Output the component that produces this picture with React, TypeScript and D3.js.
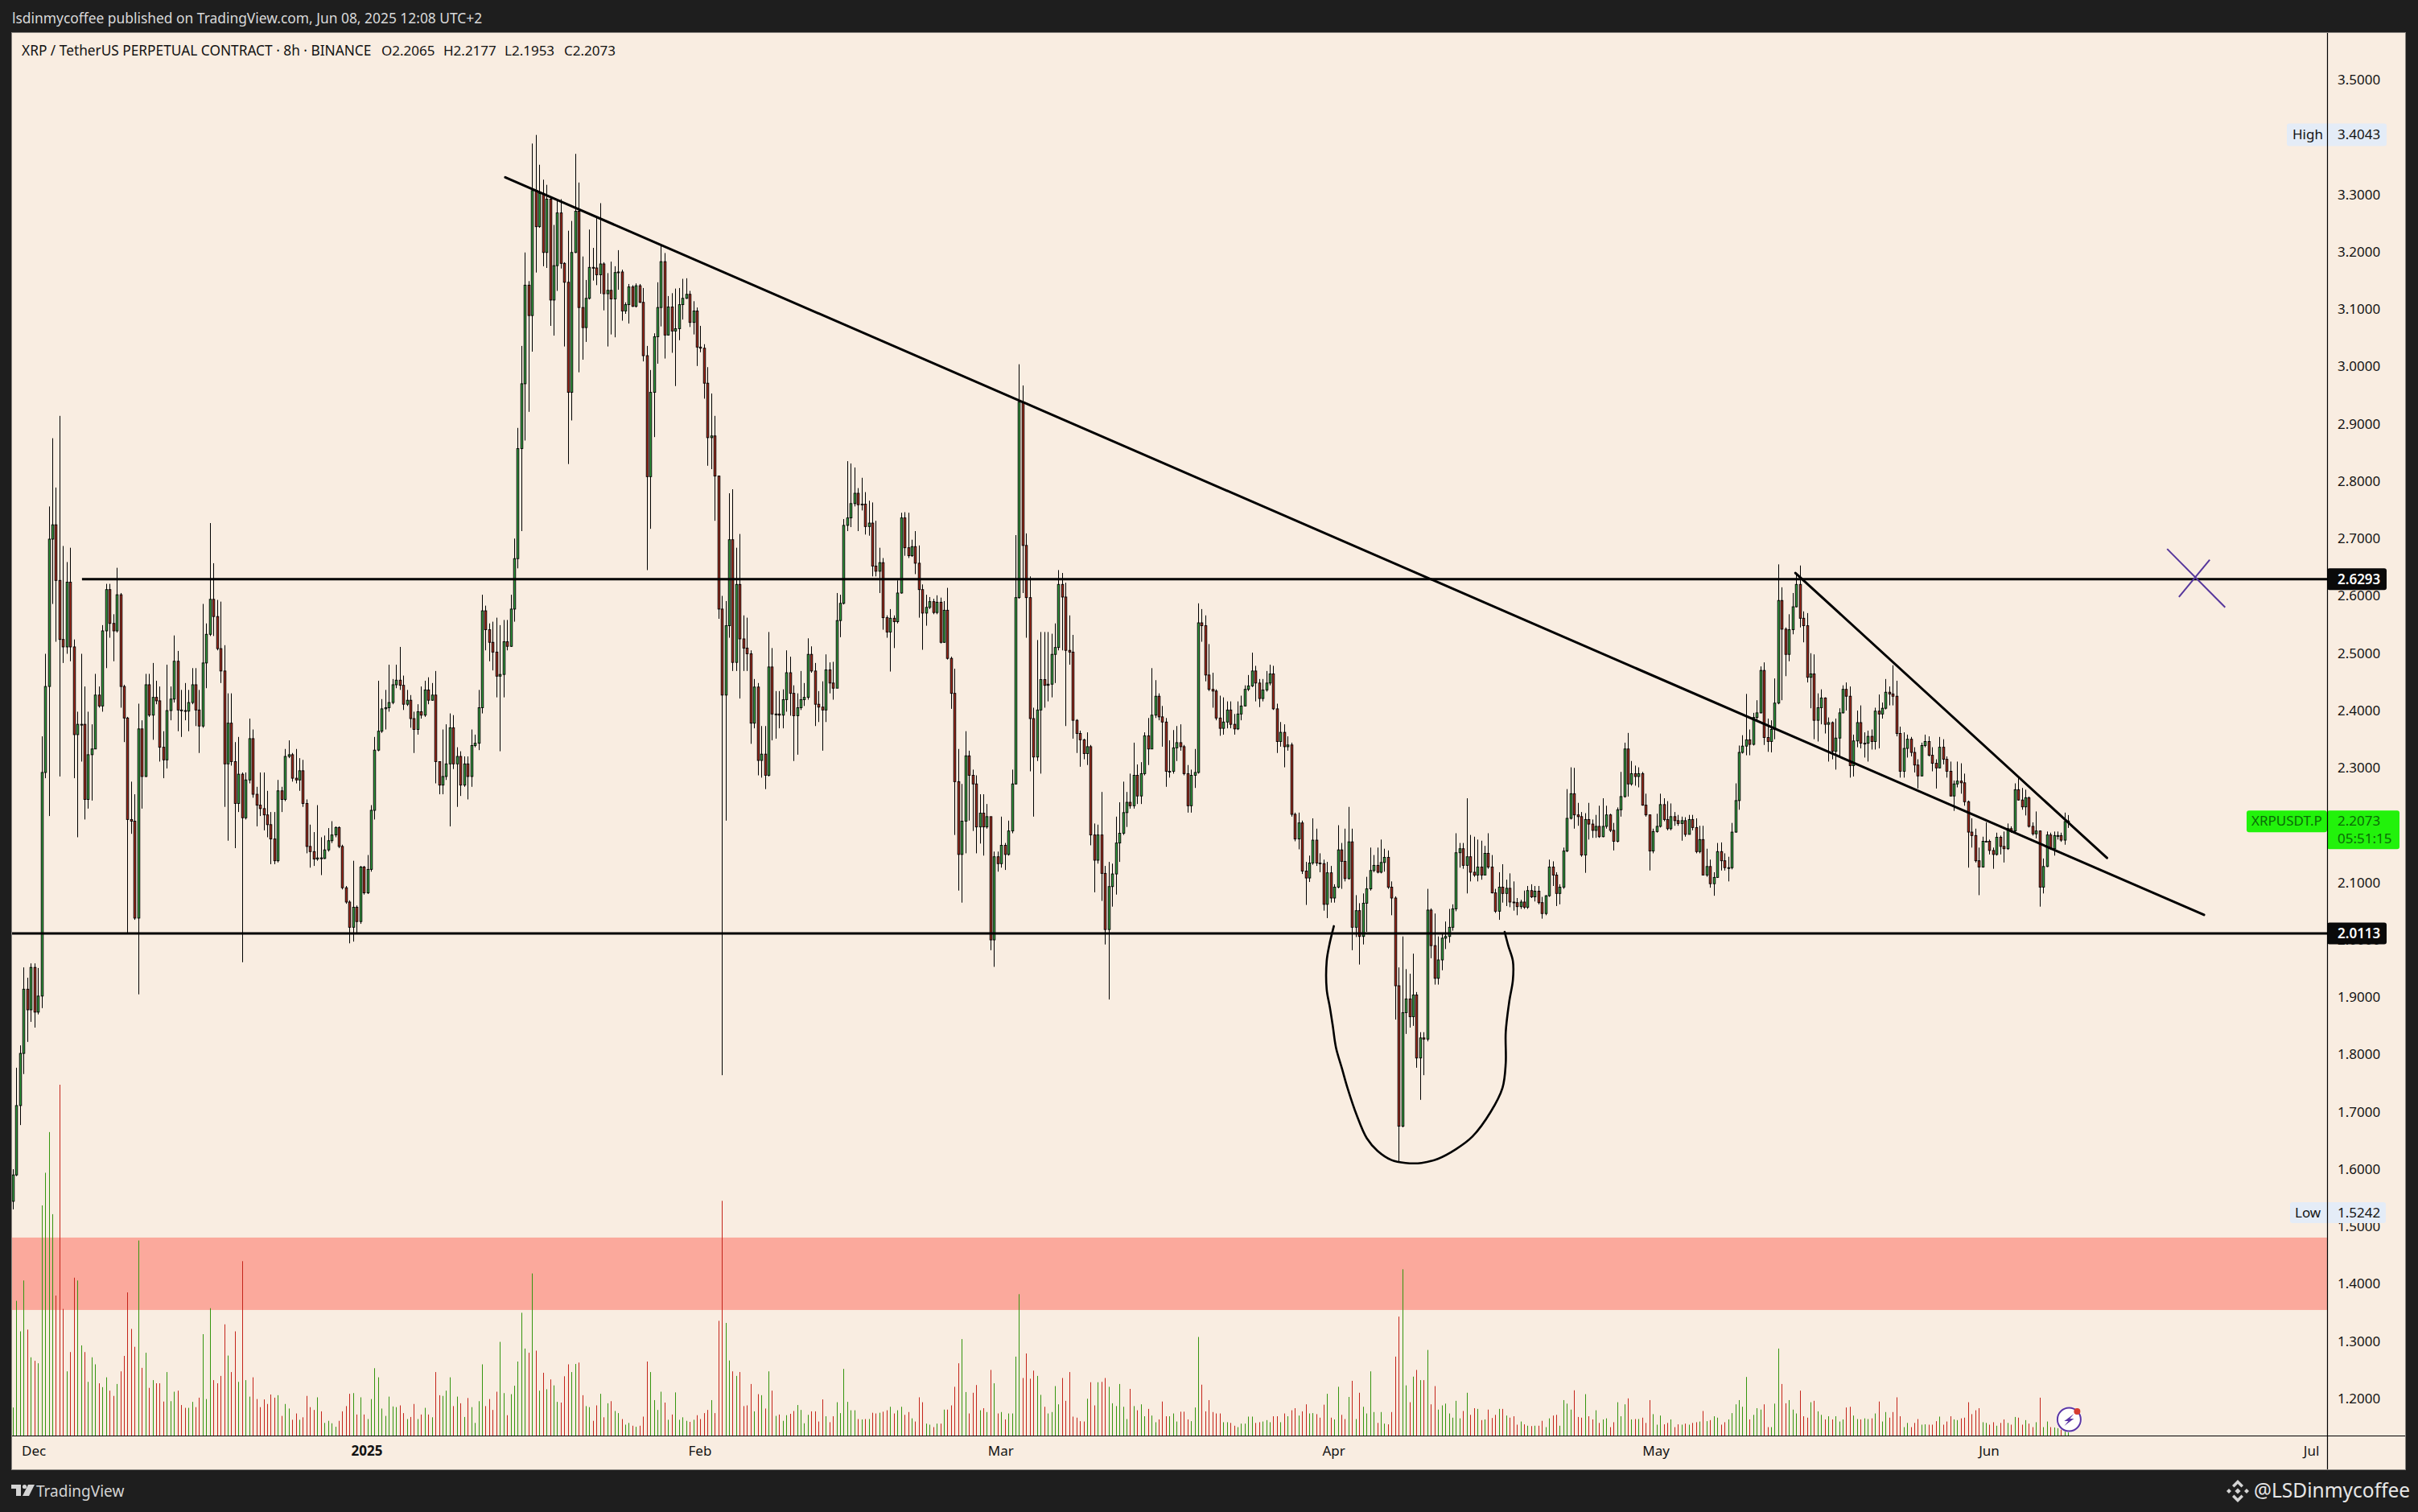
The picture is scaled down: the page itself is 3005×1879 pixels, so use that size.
import { useEffect, useRef } from "react";
import * as d3 from "d3";

const WIDTH = 3005;
const HEIGHT = 1879;

// 8h bars, first one is Nov 29 2024 00:00 UTC
const FIRST_BAR = Date.UTC(2024, 10, 29, 0);
const BAR_MS = 8 * 3600 * 1000;
const FIRST_OPEN = 1.544;

const closes = [
  1.590,1.711,1.802,1.914,1.878,1.952,1.874,1.902,2.292,2.442,
  2.699,2.724,2.627,2.524,2.511,2.624,2.511,2.358,2.376,2.376,
  2.245,2.323,2.333,2.427,2.408,2.539,2.611,2.552,2.539,2.602,
  2.442,2.387,2.210,2.207,2.038,2.368,2.285,2.445,2.392,2.423,
  2.417,2.336,2.314,2.400,2.420,2.486,2.401,2.400,2.399,2.414,
  2.445,2.401,2.373,2.483,2.533,2.594,2.564,2.508,2.469,2.307,
  2.378,2.311,2.238,2.289,2.213,2.279,2.351,2.254,2.235,2.229,
  2.218,2.201,2.176,2.138,2.260,2.245,2.320,2.323,2.282,2.279,
  2.295,2.238,2.163,2.154,2.141,2.143,2.142,2.157,2.173,2.183,
  2.196,2.163,2.091,2.066,2.022,2.057,2.032,2.127,2.082,2.123,
  2.226,2.331,2.364,2.403,2.405,2.414,2.445,2.453,2.444,2.411,
  2.418,2.386,2.367,2.398,2.392,2.436,2.418,2.427,2.311,2.270,
  2.285,2.307,2.370,2.307,2.320,2.270,2.307,2.285,2.339,2.343,
  2.405,2.574,2.541,2.519,2.502,2.460,2.463,2.520,2.512,2.577,
  2.665,2.857,2.970,3.142,3.089,3.307,3.244,3.302,3.199,3.292,
  3.116,3.176,3.268,3.180,3.147,2.955,3.199,3.271,3.103,3.068,
  3.119,3.173,3.172,3.160,3.179,3.127,3.133,3.118,3.164,3.165,
  3.097,3.108,3.139,3.105,3.141,3.112,3.019,2.808,2.955,3.052,
  3.103,3.183,3.055,3.104,3.062,3.066,3.108,3.119,3.126,3.077,
  3.097,3.034,3.032,2.971,2.876,2.879,2.809,2.577,2.427,2.548,
  2.698,2.484,2.620,2.525,2.509,2.499,2.378,2.441,2.313,2.324,
  2.287,2.476,2.394,2.394,2.392,2.419,2.466,2.430,2.391,2.405,
  2.419,2.423,2.498,2.469,2.411,2.406,2.401,2.471,2.448,2.439,
  2.557,2.587,2.723,2.736,2.761,2.779,2.759,2.760,2.721,2.727,
  2.652,2.643,2.658,2.562,2.537,2.561,2.555,2.605,2.736,2.684,
  2.670,2.686,2.657,2.611,2.570,2.580,2.590,2.571,2.589,2.519,
  2.575,2.491,2.430,2.276,2.149,2.207,2.321,2.287,2.272,2.197,
  2.221,2.197,2.215,2.000,2.145,2.133,2.165,2.149,2.190,2.272,
  2.597,2.938,2.688,2.597,2.386,2.319,2.401,2.454,2.444,2.446,
  2.498,2.510,2.620,2.598,2.505,2.502,2.383,2.360,2.349,2.325,
  2.337,2.183,2.139,2.183,2.116,2.018,2.093,2.115,2.169,2.186,
  2.222,2.240,2.234,2.287,2.251,2.290,2.356,2.333,2.392,2.425,
  2.389,2.380,2.294,2.294,2.335,2.344,2.337,2.290,2.234,2.287,
  2.292,2.553,2.548,2.462,2.437,2.434,2.387,2.369,2.380,2.401,
  2.376,2.368,2.394,2.408,2.437,2.443,2.469,2.448,2.421,2.436,
  2.448,2.464,2.403,2.346,2.362,2.337,2.340,2.219,2.176,2.204,
  2.120,2.108,2.134,2.174,2.134,2.133,2.062,2.117,2.073,2.092,
  2.157,2.137,2.107,2.171,2.022,2.051,2.006,2.064,2.089,2.121,
  2.130,2.118,2.135,2.144,2.092,2.073,1.920,1.675,1.873,1.897,
  1.866,1.904,1.794,1.829,1.827,2.052,1.990,1.933,1.965,2.003,
  2.006,2.022,2.054,2.152,2.159,2.130,2.145,2.118,2.113,2.127,
  2.113,2.151,2.127,2.082,2.050,2.092,2.081,2.090,2.066,2.065,
  2.058,2.066,2.057,2.086,2.075,2.085,2.065,2.046,2.077,2.127,
  2.113,2.081,2.092,2.155,2.212,2.255,2.218,2.215,2.148,2.210,
  2.202,2.191,2.198,2.180,2.198,2.218,2.191,2.172,2.227,2.250,
  2.333,2.272,2.290,2.285,2.290,2.235,2.218,2.155,2.189,2.198,
  2.236,2.210,2.194,2.215,2.208,2.203,2.208,2.184,2.210,2.196,
  2.154,2.175,2.113,2.128,2.098,2.109,2.154,2.138,2.126,2.126,
  2.188,2.243,2.327,2.338,2.349,2.341,2.388,2.396,2.470,2.353,
  2.346,2.367,2.413,2.592,2.542,2.498,2.541,2.581,2.620,2.561,
  2.548,2.458,2.464,2.383,2.405,2.422,2.376,2.379,2.329,2.352,
  2.396,2.437,2.425,2.304,2.347,2.379,2.343,2.343,2.355,2.346,
  2.399,2.394,2.404,2.432,2.429,2.425,2.360,2.294,2.334,2.350,
  2.327,2.305,2.286,2.339,2.346,2.322,2.308,2.300,2.336,2.315,
  2.294,2.251,2.272,2.277,2.274,2.241,2.188,2.182,2.138,2.127,
  2.172,2.172,2.156,2.149,2.179,2.163,2.159,2.194,2.190,2.262,
  2.244,2.232,2.248,2.198,2.185,2.190,2.092,2.128,2.183,2.159,
  2.182,2.182,2.174,2.2065,2.2073,
];

const highs = [
  1.600,1.777,1.816,1.952,1.934,1.959,1.959,1.951,2.355,2.499,
  2.756,2.875,2.789,2.914,2.687,2.659,2.684,2.524,2.398,2.499,
  2.442,2.398,2.376,2.464,2.442,2.549,2.621,2.621,2.568,2.649,
  2.605,2.445,2.389,2.276,2.254,2.412,2.383,2.464,2.464,2.483,
  2.452,2.442,2.364,2.480,2.442,2.531,2.504,2.436,2.448,2.436,
  2.474,2.474,2.436,2.586,2.552,2.727,2.657,2.593,2.590,2.514,
  2.430,2.430,2.345,2.354,2.292,2.292,2.386,2.367,2.267,2.292,
  2.292,2.260,2.223,2.223,2.279,2.267,2.333,2.348,2.326,2.333,
  2.317,2.314,2.245,2.201,2.188,2.235,2.179,2.182,2.195,2.207,
  2.198,2.198,2.166,2.094,2.069,2.138,2.060,2.129,2.129,2.148,
  2.235,2.354,2.452,2.420,2.436,2.480,2.455,2.480,2.511,2.461,
  2.436,2.427,2.398,2.411,2.442,2.452,2.458,2.448,2.469,2.311,
  2.367,2.376,2.395,2.392,2.336,2.329,2.320,2.320,2.367,2.358,
  2.436,2.602,2.583,2.552,2.555,2.562,2.549,2.558,2.558,2.602,
  2.700,2.893,3.036,3.199,3.149,3.389,3.404,3.352,3.326,3.317,
  3.295,3.247,3.290,3.292,3.182,3.237,3.254,3.371,3.321,3.192,
  3.151,3.239,3.207,3.259,3.285,3.182,3.163,3.183,3.175,3.203,
  3.169,3.112,3.144,3.142,3.145,3.144,3.137,3.036,2.994,3.058,
  3.147,3.212,3.198,3.123,3.128,3.136,3.137,3.153,3.154,3.132,
  3.114,3.103,3.071,3.039,2.999,2.953,2.914,2.810,2.600,2.591,
  2.779,2.786,2.684,2.708,2.566,2.562,2.505,2.455,2.448,2.373,
  2.373,2.537,2.509,2.434,2.434,2.437,2.505,2.494,2.444,2.430,
  2.469,2.448,2.526,2.512,2.483,2.434,2.451,2.498,2.484,2.485,
  2.605,2.602,2.734,2.835,2.831,2.824,2.788,2.806,2.781,2.766,
  2.763,2.731,2.684,2.666,2.566,2.577,2.566,2.627,2.745,2.746,
  2.745,2.698,2.713,2.688,2.620,2.602,2.598,2.595,2.601,2.597,
  2.591,2.614,2.494,2.473,2.333,2.272,2.364,2.330,2.297,2.287,
  2.254,2.254,2.237,2.201,2.154,2.154,2.215,2.169,2.208,2.297,
  2.706,3.004,2.967,2.709,2.634,2.405,2.523,2.537,2.537,2.537,
  2.534,2.552,2.645,2.640,2.623,2.566,2.532,2.385,2.365,2.351,
  2.362,2.340,2.203,2.201,2.258,2.129,2.136,2.133,2.215,2.240,
  2.276,2.258,2.290,2.344,2.306,2.310,2.362,2.387,2.474,2.453,
  2.430,2.408,2.387,2.348,2.366,2.373,2.376,2.340,2.305,2.297,
  2.333,2.587,2.577,2.566,2.516,2.466,2.437,2.426,2.423,2.416,
  2.416,2.394,2.416,2.426,2.444,2.462,2.501,2.478,2.455,2.455,
  2.469,2.480,2.478,2.412,2.380,2.376,2.355,2.344,2.222,2.222,
  2.208,2.136,2.147,2.212,2.194,2.151,2.140,2.136,2.129,2.097,
  2.200,2.169,2.194,2.232,2.194,2.078,2.064,2.081,2.110,2.161,
  2.148,2.161,2.175,2.159,2.156,2.102,2.076,1.952,2.006,1.949,
  1.941,1.976,1.909,1.839,1.839,2.089,2.055,2.046,2.006,2.011,
  2.032,2.054,2.062,2.186,2.169,2.169,2.247,2.183,2.180,2.175,
  2.173,2.164,2.186,2.148,2.089,2.118,2.132,2.105,2.116,2.102,
  2.073,2.070,2.086,2.094,2.097,2.094,2.094,2.075,2.078,2.140,
  2.137,2.118,2.097,2.161,2.263,2.301,2.300,2.239,2.223,2.221,
  2.239,2.210,2.218,2.234,2.247,2.234,2.220,2.204,2.231,2.293,
  2.344,2.361,2.312,2.304,2.301,2.293,2.255,2.219,2.194,2.220,
  2.255,2.247,2.242,2.238,2.223,2.218,2.215,2.214,2.218,2.218,
  2.212,2.199,2.199,2.159,2.140,2.118,2.169,2.170,2.151,2.145,
  2.204,2.273,2.339,2.357,2.429,2.367,2.396,2.418,2.477,2.484,
  2.386,2.383,2.456,2.655,2.615,2.545,2.568,2.605,2.638,2.653,
  2.573,2.570,2.500,2.498,2.430,2.437,2.423,2.388,2.381,2.386,
  2.404,2.444,2.449,2.442,2.358,2.400,2.409,2.362,2.365,2.367,
  2.405,2.428,2.414,2.455,2.442,2.479,2.452,2.372,2.362,2.358,
  2.354,2.336,2.315,2.344,2.358,2.355,2.336,2.315,2.354,2.350,
  2.320,2.311,2.278,2.311,2.308,2.290,2.243,2.212,2.194,2.161,
  2.180,2.205,2.175,2.161,2.187,2.182,2.189,2.203,2.198,2.273,
  2.282,2.265,2.262,2.250,2.205,2.224,2.191,2.142,2.189,2.187,
  2.189,2.189,2.187,2.222,2.2177,
];

const lows = [
  1.530,1.588,1.677,1.766,1.822,1.857,1.847,1.870,1.881,2.282,
  2.216,2.586,2.520,2.285,2.483,2.499,2.486,2.282,2.179,2.311,
  2.210,2.229,2.243,2.333,2.405,2.398,2.474,2.527,2.486,2.536,
  2.405,2.345,2.010,2.185,2.035,1.905,2.229,2.284,2.389,2.349,
  2.411,2.311,2.282,2.299,2.383,2.414,2.364,2.354,2.383,2.364,
  2.411,2.373,2.326,2.370,2.439,2.530,2.530,2.505,2.448,2.232,
  2.173,2.304,2.160,2.223,1.961,2.210,2.273,2.248,2.198,2.216,
  2.191,2.179,2.132,2.132,2.135,2.223,2.242,2.317,2.276,2.273,
  2.260,2.232,2.151,2.126,2.129,2.138,2.113,2.141,2.154,2.169,
  2.179,2.160,2.088,2.063,1.994,1.997,2.010,2.028,2.079,2.080,
  2.119,2.210,2.329,2.361,2.367,2.398,2.411,2.439,2.436,2.401,
  2.408,2.370,2.326,2.358,2.386,2.389,2.411,2.417,2.273,2.254,
  2.254,2.279,2.198,2.298,2.232,2.251,2.267,2.245,2.267,2.336,
  2.331,2.395,2.505,2.486,2.470,2.423,2.329,2.423,2.505,2.511,
  2.555,2.648,2.713,2.871,2.921,3.026,3.164,3.242,3.175,3.172,
  3.071,3.054,3.132,3.171,3.035,2.830,2.906,3.198,2.990,3.012,
  3.043,3.117,3.150,3.142,3.127,3.098,3.035,3.056,3.051,3.134,
  3.080,3.092,3.075,3.104,3.103,3.111,3.009,2.645,2.717,2.877,
  3.005,3.070,3.014,3.054,3.024,2.966,3.046,3.082,3.118,3.069,
  3.056,3.001,3.025,2.944,2.827,2.821,2.731,2.560,1.764,2.208,
  2.527,2.469,2.469,2.421,2.469,2.469,2.342,2.369,2.287,2.283,
  2.263,2.285,2.348,2.351,2.369,2.369,2.398,2.391,2.312,2.323,
  2.401,2.408,2.419,2.466,2.373,2.380,2.330,2.380,2.430,2.419,
  2.441,2.528,2.585,2.713,2.720,2.756,2.713,2.749,2.707,2.705,
  2.634,2.634,2.605,2.541,2.527,2.468,2.509,2.552,2.604,2.670,
  2.666,2.668,2.638,2.562,2.506,2.548,2.577,2.568,2.568,2.517,
  2.518,2.489,2.403,2.183,2.086,2.065,2.151,2.208,2.190,2.151,
  2.168,2.147,2.194,1.982,1.953,2.119,2.126,2.122,2.147,2.186,
  2.271,2.595,2.605,2.527,2.294,2.215,2.312,2.290,2.405,2.416,
  2.423,2.448,2.505,2.505,2.373,2.480,2.351,2.326,2.302,2.315,
  2.305,2.165,2.083,2.133,2.068,1.992,1.896,2.058,2.079,2.136,
  2.183,2.197,2.229,2.229,2.237,2.237,2.287,2.305,2.351,2.387,
  2.383,2.337,2.267,2.283,2.290,2.312,2.330,2.287,2.222,2.222,
  2.265,2.290,2.520,2.451,2.434,2.405,2.383,2.356,2.358,2.369,
  2.369,2.358,2.366,2.383,2.407,2.434,2.441,2.416,2.406,2.416,
  2.433,2.444,2.401,2.326,2.337,2.301,2.330,2.215,2.172,2.158,
  2.115,2.061,2.101,2.131,2.129,2.118,2.051,2.038,2.065,2.065,
  2.090,2.089,2.102,2.105,1.982,2.005,1.957,1.992,2.014,2.086,
  2.118,2.116,2.116,2.119,2.089,2.043,1.861,1.613,1.673,1.836,
  1.847,1.850,1.777,1.721,1.764,1.823,1.968,1.922,1.922,1.947,
  1.984,1.995,2.016,2.050,2.126,2.124,2.081,2.102,2.110,2.102,
  2.105,2.121,2.124,2.081,2.047,2.035,2.065,2.059,2.057,2.051,
  2.043,2.054,2.054,2.054,2.073,2.067,2.062,2.037,2.043,2.075,
  2.094,2.059,2.062,2.089,2.153,2.210,2.194,2.199,2.145,2.117,
  2.175,2.178,2.178,2.178,2.179,2.194,2.188,2.156,2.170,2.215,
  2.248,2.250,2.269,2.269,2.266,2.234,2.215,2.121,2.151,2.187,
  2.196,2.207,2.191,2.191,2.199,2.199,2.173,2.180,2.184,2.191,
  2.151,2.151,2.118,2.110,2.091,2.077,2.108,2.121,2.121,2.102,
  2.123,2.187,2.227,2.325,2.322,2.322,2.339,2.381,2.395,2.340,
  2.328,2.327,2.350,2.411,2.418,2.460,2.486,2.533,2.580,2.545,
  2.519,2.449,2.404,2.350,2.346,2.376,2.360,2.311,2.315,2.297,
  2.318,2.395,2.400,2.283,2.285,2.336,2.334,2.318,2.311,2.332,
  2.332,2.334,2.386,2.402,2.409,2.409,2.355,2.283,2.283,2.318,
  2.320,2.292,2.264,2.285,2.336,2.320,2.294,2.264,2.299,2.306,
  2.283,2.250,2.225,2.266,2.255,2.234,2.126,2.161,2.135,2.078,
  2.126,2.170,2.149,2.124,2.147,2.149,2.135,2.157,2.187,2.187,
  2.243,2.227,2.217,2.196,2.182,2.177,2.058,2.081,2.127,2.157,
  2.147,2.175,2.171,2.166,2.1953,
];

// volume as a share of the tallest bar (no volume axis on the chart)
const volumes = [
  8,38.4,29.7,44.2,30.2,22.3,21.3,20.6,65.6,74.9,
  86.5,63.1,39.9,100,36.1,18.3,23.8,45,44.2,25.7,
  23.8,15.3,22.3,20.3,14.9,13.8,16.6,12.8,11.3,14.7,
  18.3,22.7,40.8,30.4,25.3,55.6,19.3,23.6,13.6,15.8,
  14.9,14.9,9.7,18.1,9.8,12.5,12.8,8.7,7.9,7.9,
  9.6,8.1,10.8,28.9,10.4,36.3,15.8,14.9,17,31.7,
  22.8,18.1,29.7,15.3,49.7,15.8,11.1,16.6,10.4,8.1,
  10.3,9,11.7,10.8,11.5,5.6,9,7.7,4.5,6.3,
  4.5,5.2,11.3,8.1,7.3,10.9,6.9,3.6,4.2,3.5,
  2.5,4.2,6.9,8.4,11.9,12.1,6,10.9,6,4.7,
  10.4,19.2,16.6,7.7,5.6,11.1,8.3,8.1,8.6,6.4,
  4.7,5.3,9,4.7,6,7.9,6,5.2,18.1,11.5,
  11.3,12.8,16.6,8.4,11.1,9.2,5.3,10.7,8.1,3.6,
  9.8,20.3,8.4,10.4,7.3,12.5,26.7,12.1,5.8,11.8,
  14.2,21.1,35,24.8,23.6,46.2,24.2,12.8,17.9,13.2,
  16,14.3,9.6,9.4,16.9,20.3,18.1,20.4,20.8,11.5,
  8.4,8.1,4.2,8.6,11.9,5.2,9.2,9.8,7,6.4,
  4.7,3.1,3.6,2.8,2.5,2.8,5.4,21.1,18.1,10.1,
  7.3,12.5,9.4,4.5,6,12.3,4.5,5.2,4.2,3.9,
  4.5,5.8,4.7,6.4,7.3,10.1,6.4,32.7,66.9,32.1,
  21.4,18.3,17,18.1,8.4,8.6,14.7,6.9,11.8,11.5,
  7.7,18.3,12.8,5.6,6,4.2,5.8,6.2,7,8.7,
  7.3,3.5,5.9,6.9,6.9,4,10.3,5.5,3.8,5.5,
  9.5,6.4,19,9.6,7.2,7.2,4.7,4.6,4.7,4.7,
  6.5,6.3,6.5,6.8,7.2,8.2,6.3,7.2,8.2,5.9,
  6.7,4.9,4,10.9,9.5,3.4,3.1,2.4,3.4,3.4,
  7.4,7.4,8.6,13.9,20.6,27.5,12.4,6.3,12.2,14.4,
  7.2,7.8,6.7,18.7,14.9,6.3,6.7,4.6,6.3,6.3,
  22.5,40.3,16.4,23.4,16.2,18.5,17,11.6,8.2,6.3,
  6.7,14.1,8.9,16.4,9.9,18.1,5.4,5.1,4.1,4,
  10.5,15.2,8.6,15.2,15.3,16.4,13.9,9.2,8.4,14.7,
  8.2,4.7,13.3,8.4,7.2,8.9,5.5,7.6,5.7,3.8,
  4.6,9.7,5.5,5.5,6.3,4,6.8,6.8,4.6,4.1,
  8,28.1,14.5,6.9,10.1,6.7,6.3,6.3,3.8,3.8,
  3.6,2.8,2.4,3.4,3.4,5.4,5.4,3.6,3.8,4,
  4.4,3.8,5.5,5.5,3.8,6.3,5.5,7.2,7.8,5.7,
  6.9,8.9,6.3,6.4,6.1,5.1,8.8,11.9,5.1,4.6,
  13.9,5.9,4.7,11,15.6,4.7,12.2,8.2,6.3,18.3,
  6.7,3.6,6.7,3.4,3.2,6.7,22.5,33.9,47.4,14.3,
  9.5,16.8,18.7,15.8,15.8,24.4,8.9,14.1,7.4,8.6,
  9.1,6.3,5.1,9.9,4.9,7,12.2,5.9,7.8,7.6,
  4.4,4.6,7.4,5,5.9,7.6,7.6,5.7,5.1,5.5,
  3.1,4,3.2,2.8,2.7,2.8,2.8,4.2,2.4,4.9,
  5.7,5.9,2.8,10.1,9.1,7.4,12.9,5.3,5.1,11.8,
  5.5,4.6,7.2,3.6,4.6,4.9,2.4,3.8,9.5,5.5,
  8.9,10.6,4.6,4.7,4.7,5.1,3.6,10.1,6.1,3.1,
  5.7,3.2,3.6,4.6,2.4,3.2,3.1,3.4,3.1,3.6,
  3.8,4,7,4.1,4.4,5.5,5.1,3.1,3.8,4.6,
  6.4,8.9,10.1,8.2,16.7,4.6,5.9,7.8,7.4,8.9,
  2.4,2.4,9.1,24.8,14.7,9.2,10.1,7.4,6.3,12.8,
  5.5,5.1,9.5,9.9,6.9,5.9,4.6,5.5,4.6,5.5,
  4,4.6,8,8.2,5.7,4.7,4.6,4.9,4.7,4.9,
  6.3,9.7,4,6.7,5.1,6.7,10.9,5.5,2.4,3.6,
  2.4,3.6,4.7,3.1,3.2,3.1,3.1,4.1,5.4,3.1,
  4,5.5,4.6,4.4,4.9,5.1,9.5,6.1,7.2,7.8,
  3.8,3.6,3.1,3.8,2.8,3.6,4.6,3.6,3.1,5.3,
  5.1,3.1,4.4,3.4,2.4,3.8,10.8,2.4,4,2.4,
  2.3,2.1,1.7,1.3,0.9,
];

const priceTicks = d3.range(12, 36).map((d) => d / 10);
const monthTicks = [
  { date: new Date(Date.UTC(2024, 11, 1)), label: "Dec" },
  { date: new Date(Date.UTC(2025, 0, 1)), label: "2025" },
  { date: new Date(Date.UTC(2025, 1, 1)), label: "Feb" },
  { date: new Date(Date.UTC(2025, 2, 1)), label: "Mar" },
  { date: new Date(Date.UTC(2025, 3, 1)), label: "Apr" },
  { date: new Date(Date.UTC(2025, 4, 1)), label: "May" },
  { date: new Date(Date.UTC(2025, 5, 1)), label: "Jun" },
  { date: new Date(Date.UTC(2025, 6, 1)), label: "Jul" },
];

// drawings on the chart, in [bar number, price]
const levelHigh = 2.6293;
const levelLow = 2.0113;
const levelHighStartBar = 19.3;
const zoneTop = 1.4808;
const zoneBottom = 1.3545;
const longTrend: [number, number][] = [[137.5, 3.33], [611.9, 2.0436]];
const shortTrend: [number, number][] = [[497.8, 2.64], [584.8, 2.143]];
const crossA: [number, number][] = [[601.6, 2.682], [617.8, 2.58]];
const crossB: [number, number][] = [[613.5, 2.663], [604.9, 2.598]];
const handCurve: [number, number][] = [
  [368.9, 2.024], [367.6, 1.99], [366.9, 1.963], [366.9, 1.914], [367.8, 1.882], [368.6, 1.85],
  [369.5, 1.812], [371.2, 1.775], [372.7, 1.742], [375.3, 1.694], [378.1, 1.654], [381.1, 1.632],
  [385, 1.616], [388.9, 1.611], [393.4, 1.611], [397.9, 1.618], [403, 1.635], [407.6, 1.657],
  [412.7, 1.7], [416, 1.742], [416.9, 1.785], [416.9, 1.839], [417.9, 1.893], [418.9, 1.93],
  [418.9, 1.963], [417.6, 1.99], [416.6, 2.014],
];

const FONT = "'Noto Sans', sans-serif";
const BG = "#f9ede1";
const FRAME = "#1e1e1e";

export default function App() {
  const svgRef = useRef<SVGSVGElement>(null);

  useEffect(() => {
    if (!svgRef.current) return;
    const svg = d3.select(svgRef.current);
    svg.selectAll("*").remove();

    const left = 15, right = 2892, top = 41, bottom = 1784, panelRight = 2989, panelBottom = 1826;

    // Scales
    const x = d3.scaleUtc()
      .domain([new Date(Date.UTC(2024, 11, 1)), new Date(Date.UTC(2025, 6, 1))])
      .range([42.7, 2873]);
    const y = d3.scaleLinear().domain([3.5, 1.2]).range([99.3, 1738]);
    const yVol = d3.scaleLinear().domain([0, 100]).range([bottom, bottom - 436]);
    const barX = (bar: number) => x(new Date(FIRST_BAR + bar * BAR_MS));
    const crispX = (bar: number) => Math.round(barX(bar)) + 0.5;

    // Frame and panel
    svg.append("rect").attr("width", WIDTH).attr("height", HEIGHT).attr("fill", FRAME);
    svg.append("rect")
      .attr("x", left - 0.5).attr("y", top - 0.5)
      .attr("width", panelRight - left + 1).attr("height", panelBottom - top + 1)
      .attr("fill", BG).attr("stroke", "#8a8580").attr("stroke-width", 1);

    svg.append("defs").append("clipPath").attr("id", "plot")
      .append("rect").attr("x", left).attr("y", top).attr("width", right - left).attr("height", bottom - top);
    const plot = svg.append("g").attr("clip-path", "url(#plot)");

    // Red zone
    plot.append("rect")
      .attr("x", left).attr("width", right - left)
      .attr("y", y(zoneTop)).attr("height", y(zoneBottom) - y(zoneTop))
      .attr("fill", "#fba99c");

    const bars = closes.map((close, i) => {
      const open = i === 0 ? FIRST_OPEN : closes[i - 1];
      return { i, open, close, high: highs[i], low: lows[i], volume: volumes[i] ?? 0, up: close >= open };
    });

    // Volume
    plot.append("g").selectAll("line").data(bars).join("line")
      .attr("x1", (d) => crispX(d.i)).attr("x2", (d) => crispX(d.i))
      .attr("y1", yVol(0)).attr("y2", (d) => yVol(d.volume))
      .attr("stroke", (d) => (d.up ? "#35950f" : "#c4241a"))
      .attr("stroke-width", 1);

    // Candles
    const candles = plot.append("g").selectAll("g").data(bars).join("g");
    candles.append("line")
      .attr("x1", (d) => crispX(d.i)).attr("x2", (d) => crispX(d.i))
      .attr("y1", (d) => y(d.high)).attr("y2", (d) => y(d.low))
      .attr("stroke", "#000").attr("stroke-width", 1);
    candles.append("rect")
      .attr("x", (d) => crispX(d.i) - 1.3).attr("width", 2.6)
      .attr("y", (d) => y(Math.max(d.open, d.close)))
      .attr("height", (d) => Math.max(Math.abs(y(d.open) - y(d.close)), 1))
      .attr("fill", (d) => (d.up ? "#2f9a3c" : "#a02618"))
      .attr("stroke", "#000").attr("stroke-width", 0.9);

    // Drawings
    const lineGen = d3.line<[number, number]>().x((d) => barX(d[0])).y((d) => y(d[1]));
    const drawn = svg.append("g").attr("clip-path", "url(#plot)").attr("fill", "none").attr("stroke", "#000");
    drawn.append("line").attr("x1", barX(levelHighStartBar)).attr("x2", right)
      .attr("y1", y(levelHigh)).attr("y2", y(levelHigh)).attr("stroke-width", 3);
    drawn.append("line").attr("x1", left).attr("x2", right)
      .attr("y1", y(levelLow)).attr("y2", y(levelLow)).attr("stroke-width", 3);
    drawn.append("path").attr("d", lineGen(longTrend)).attr("stroke-width", 3).attr("stroke-linecap", "round");
    drawn.append("path").attr("d", lineGen(shortTrend)).attr("stroke-width", 3).attr("stroke-linecap", "round");
    drawn.append("path").attr("d", lineGen.curve(d3.curveCatmullRom)(handCurve))
      .attr("stroke-width", 2.6).attr("stroke-linecap", "round");
    lineGen.curve(d3.curveLinear);
    drawn.append("path").attr("d", lineGen(crossA)).attr("stroke", "#56369c").attr("stroke-width", 2);
    drawn.append("path").attr("d", lineGen(crossB)).attr("stroke", "#56369c").attr("stroke-width", 2);

    // Axis lines
    svg.append("line").attr("x1", left).attr("x2", panelRight).attr("y1", bottom + 0.5).attr("y2", bottom + 0.5)
      .attr("stroke", "#000").attr("stroke-width", 1.2);

    // Price axis
    const yAxis = svg.append("g").attr("transform", `translate(${right},0)`)
      .call(d3.axisRight(y).tickValues(priceTicks).tickFormat(d3.format(".4f") as any).tickSize(0).tickPadding(13));
    yAxis.select(".domain").remove();
    yAxis.selectAll("text").attr("font-family", FONT).attr("font-size", 17).attr("fill", "#131313");

    // Time axis
    const xAxis = svg.append("g").attr("transform", `translate(-1,${bottom})`)
      .call(
        d3.axisBottom(x)
          .tickValues(monthTicks.map((d) => d.date))
          .tickFormat((_, i) => monthTicks[i].label)
          .tickSize(0).tickPadding(13)
      );
    xAxis.select(".domain").remove();
    xAxis.selectAll("text").attr("font-family", FONT).attr("font-size", 17).attr("fill", "#131313")
      .attr("font-weight", (_, i) => (monthTicks[i].label === "2025" ? 700 : 400));

    const text = (
      g: d3.Selection<any, any, any, any>, tx: number, ty: number, s: string, size: number, fill: string,
      anchor = "start", weight = 400
    ) =>
      g.append("text").attr("x", tx).attr("y", ty).attr("dy", "0.35em").attr("text-anchor", anchor)
        .attr("font-family", FONT).attr("font-size", size).attr("font-weight", weight).attr("fill", fill).text(s);

    // Price labels
    const labels = svg.append("g");
    const box = (bx: number, by: number, w: number, h: number, fill: string) =>
      labels.append("rect").attr("x", bx).attr("y", by).attr("width", w).attr("height", h).attr("rx", 3).attr("fill", fill);

    const highY = y(3.4043);
    box(2842, highY - 14, 124, 28, "#e4ecf7");
    text(labels, 2849, highY, "High", 17, "#131313");
    text(labels, right + 13, highY, "3.4043", 17, "#131313");

    const lowY = y(1.5242);
    box(2846, lowY - 13, 119, 26, "#e4ecf7");
    text(labels, 2852, lowY, "Low", 17, "#131313");
    text(labels, right + 13, lowY, "1.5242", 17, "#131313");

    [levelHigh, levelLow].forEach((level) => {
      box(right, y(level) - 13.5, 74, 27, "#0a0a0a");
      text(labels, right + 13, y(level), d3.format(".4f")(level), 17, "#fff", "start", 600);
    });

    const lastY = y(2.2073);
    box(2792, lastY - 13, 100, 27, "#22f20b");
    box(right, lastY - 13, 90, 48, "#22f20b");
    text(labels, 2798, lastY, "XRPUSDT.P", 17, "#0b6b07");
    text(labels, right + 13, lastY, "2.2073", 17, "#0b6b07");
    text(labels, right + 13, lastY + 22, "05:51:15", 17, "#0b6b07");

    // Axis line back on top of the labels
    svg.append("line").attr("x1", right + 0.5).attr("x2", right + 0.5).attr("y1", top).attr("y2", panelBottom)
      .attr("stroke", "#000").attr("stroke-width", 1.2);

    // Titles
    text(svg, 15, 23, "lsdinmycoffee published on TradingView.com, Jun 08, 2025 12:08 UTC+2", 17.4, "#d9d9d9");
    text(svg, 27, 63, "XRP / TetherUS PERPETUAL CONTRACT · 8h · BINANCE", 17.3, "#131313");
    text(svg, 474, 63, "O2.2065", 17, "#131313");
    text(svg, 551, 63, "H2.2177", 17, "#131313");
    text(svg, 627, 63, "L2.1953", 17, "#131313");
    text(svg, 701, 63, "C2.2073", 17, "#131313");

    // Footer: TradingView logo and name
    const logo = svg.append("g").attr("transform", "translate(14,1845)").attr("fill", "#d4d4d4");
    logo.append("path").attr("d", "M0 0H12V14H6V5H0Z");
    logo.append("circle").attr("cx", 16.5).attr("cy", 2.5).attr("r", 2.6);
    logo.append("path").attr("d", "M21 0H29L22 14H14Z");
    text(svg, 45, 1853, "TradingView", 19, "#d4d4d4");

    // Footer: Binance mark and handle
    const diamond = (cx: number, cy: number, r: number) => `M${cx} ${cy - r}L${cx + r} ${cy}L${cx} ${cy + r}L${cx - r} ${cy}Z`;
    const mark = svg.append("g").attr("transform", "translate(2781,1853)").attr("fill", "#d4d4d4");
    mark.append("path").attr("d", diamond(0, 0, 3.6));
    mark.append("path").attr("d", diamond(-11, 0, 3));
    mark.append("path").attr("d", diamond(11, 0, 3));
    mark.append("path").attr("d", "M0 -14L7 -7L4.5 -4.5L0 -9L-4.5 -4.5L-7 -7Z");
    mark.append("path").attr("d", "M0 14L7 7L4.5 4.5L0 9L-4.5 4.5L-7 7Z");
    text(svg, 2801, 1852, "@LSDinmycoffee", 24.5, "#e6e6e6");

    // Lightning badge after the last bar
    const bx = barX(closes.length - 1) + 1, by = bottom - 20;
    const badge = svg.append("g").attr("transform", `translate(${bx},${by})`);
    badge.append("circle").attr("r", 16).attr("fill", "#fff").attr("opacity", 0.9);
    badge.append("circle").attr("r", 14.5).attr("fill", "none").attr("stroke", "#5b35a5").attr("stroke-width", 2);
    badge.append("path").attr("d", "M6 -7L-6 2L-1 2L-6 8L6 -1L1 -1Z").attr("fill", "#5b35a5");
    badge.append("circle").attr("cx", 10).attr("cy", -10).attr("r", 4).attr("fill", "#d63b2f");
  }, []);

  return <svg ref={svgRef} width={WIDTH} height={HEIGHT} style={{ position: "absolute", left: 0, top: 0, display: "block" }} />;
}
